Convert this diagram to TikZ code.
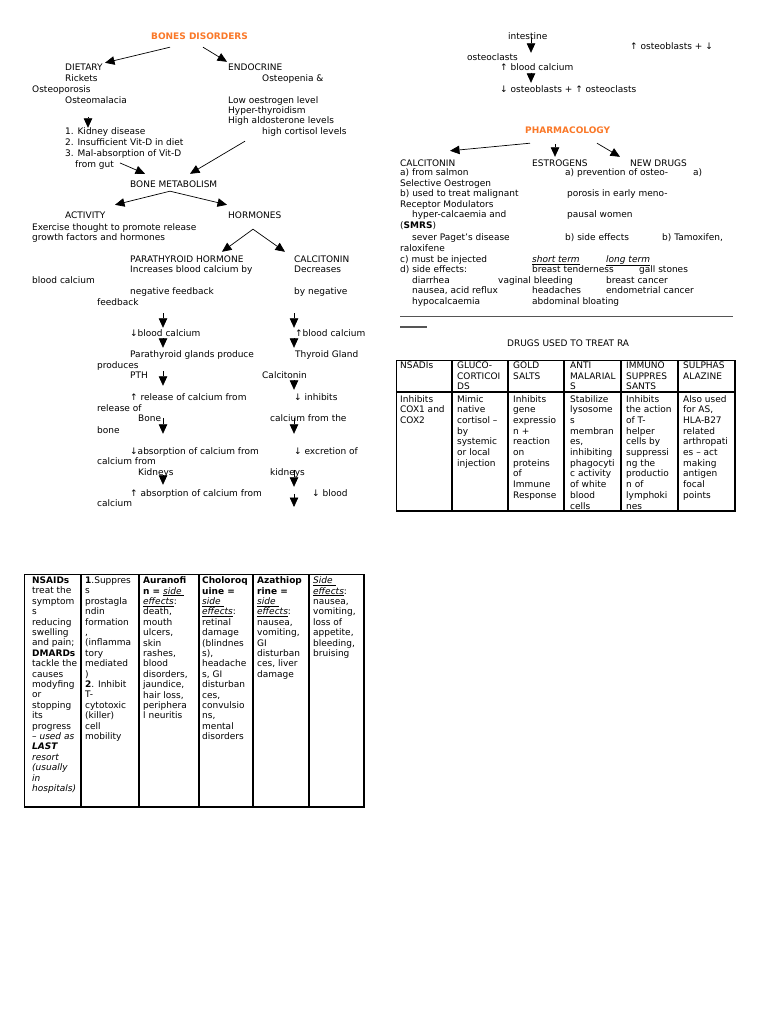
\documentclass[tikz,border=0pt]{standalone}
\usepackage{fontspec}
\setmainfont{DejaVu Sans}
\usepackage{tikz}
\usetikzlibrary{arrows.meta, positioning, calc}
\definecolor{headorange}{RGB}{250,120,40}
\definecolor{rulegray}{RGB}{85,85,85}

\begin{document}
\begin{tikzpicture}[x=1pt, y=-1pt,
    txt/.style={anchor=base west, inner sep=0pt, yshift=-3.3pt, text height=6.8pt, text depth=2.1pt, font=\fontsize{9}{10.5}\selectfont},
    ttl/.style={txt, text=headorange, font=\fontsize{9}{10.5}\selectfont\bfseries},
    cell/.style={anchor=north west, inner sep=0pt, align=left, font=\fontsize{9}{10.7}\selectfont},
    bcell/.style={cell, font=\fontsize{9}{10.4}\selectfont},
    arr/.style={-{Triangle[length=9.5pt,width=8.5pt]}, line width=0.7pt},
    tbl/.style={line width=1.3pt}]
    \useasboundingbox[fill=white] (0,0) rectangle (768,1024);

    % Bones disorders tree
    \node[ttl] (bd) at (151,36) {BONES DISORDERS};
    \node[txt] (diet) at (65,67) {DIETARY};
    \node[txt] (rick) at (65,78) {Rickets};
    \node[txt] (osp) at (32,89) {Osteoporosis};
    \node[txt] (osm) at (65,100) {Osteomalacia};
    \node[txt] (kid1) at (65,131) {1. Kidney disease};
    \node[txt] (kid2) at (65,142) {2. Insufficient Vit-D in diet};
    \node[txt] (kid3) at (65,153) {3. Mal-absorption of Vit-D};
    \node[txt] (gut) at (75,164) {from gut};
    \node[txt] (endo) at (228,67) {ENDOCRINE};
    \node[txt] (open) at (262,78) {Osteopenia \&};
    \node[txt] (oest) at (228,100) {Low oestrogen level};
    \node[txt] (hthy) at (228,110) {Hyper-thyroidism};
    \node[txt] (hald) at (228,120) {High aldosterone levels};
    \node[txt] (hcort) at (262,131) {high cortisol levels};

    \draw[arr] ($(bd.south west)+(19,5.6)$) -- ($(diet.north west)+(40,-0.5)$);
    \draw[arr] ($(bd.south west)+(52,5.6)$) -- ($(endo.north west)+(-1,-1.5)$);
    \draw[arr] ($(osm.south west)+(23,11.6)$) -- ($(kid1.north west)+(23,0.5)$);

    % Bone metabolism
    \node[txt] (meta) at (130,184) {BONE METABOLISM};
    \node[txt] (act) at (65,215) {ACTIVITY};
    \node[txt] (exer) at (32,227) {Exercise thought to promote release};
    \node[txt] (grow) at (32,237) {growth factors and hormones};
    \node[txt] (horm) at (228,215) {HORMONES};

    \draw[arr] ($(gut.west)+(45,-2)$) -- ($(meta.north west)+(15,-6.5)$);
    \draw[arr] ($(hcort.south west)+(-17,4.6)$) -- ($(meta.north west)+(60,-6.5)$);
    \draw[arr] ($(meta.south west)+(40,1.6)$) -- ($(act.north west)+(50,-6.5)$);
    \draw[arr] ($(meta.south west)+(40,1.6)$) -- ($(horm.north west)+(-1,-6.5)$);

    % Hormones
    \node[txt] (pth) at (130,259) {PARATHYROID HORMONE};
    \node[txt] (incr) at (130,269) {Increases blood calcium by};
    \node[txt] (blca) at (32,280) {blood calcium};
    \node[txt] (negf) at (130,291) {negative feedback};
    \node[txt] (fb) at (97,302) {feedback};
    \node[txt] (calc) at (294,259) {CALCITONIN};
    \node[txt] (decr) at (294,269) {Decreases};
    \node[txt] (byneg) at (294,291) {by negative};

    \draw[arr] ($(horm.south west)+(25,8.6)$) -- ($(pth.north west)+(92,-3.5)$);
    \draw[arr] ($(horm.south west)+(25,8.6)$) -- ($(calc.north west)+(-9,-3.5)$);

    % Parathyroid chain
    \coordinate (pcol) at (163,0);
    \node[txt] (lowca) at (130,333) {↓blood calcium};
    \node[txt] (pgp) at (130,354) {Parathyroid glands produce};
    \node[txt] (prod) at (97,365) {produces};
    \node[txt] (pthn) at (130,375) {PTH};
    \node[txt] (rel) at (130,397) {↑ release of calcium from};
    \node[txt] (relof) at (97,408) {release of};
    \node[txt] (bone) at (138,418) {Bone};
    \node[txt] (bone2) at (97,430) {bone};
    \node[txt] (abs) at (130,451) {↓absorption of calcium from};
    \node[txt] (cfr) at (97,461) {calcium from};
    \node[txt] (kid) at (138,472) {Kidneys};
    \node[txt] (abs2) at (130,493) {↑ absorption of calcium from};
    \node[txt] (calci) at (97,503) {calcium};

    \draw[arr, shorten <=5.6pt, shorten >=1.5pt] (pcol |- fb.south) -- (pcol |- lowca.north);
    \draw[arr, shorten <=-1pt, shorten >=2.5pt] (pcol |- lowca.south) -- (pcol |- pgp.north);
    \draw[arr, shorten >=7.5pt] (pcol |- pthn.north) -- (pcol |- rel.north);
    \draw[arr, shorten <=3.5pt, shorten >=13.5pt] (pcol |- bone.north) -- (pcol |- abs.north);
    \draw[arr, shorten >=4.5pt] (pcol |- kid.south) -- (pcol |- abs2.north);

    % Calcitonin chain
    \coordinate (ccol) at (294,0);
    \coordinate (calend) at (294,507);
    \node[txt] (hica) at (295,333) {↑blood calcium};
    \node[txt] (tg) at (295,354) {Thyroid Gland};
    \node[txt] (calcn) at (262,375) {Calcitonin};
    \node[txt] (inh) at (294,397) {↓ inhibits};
    \node[txt] (cft) at (270,418) {calcium from the};
    \node[txt] (exc) at (294,451) {↓ excretion of};
    \node[txt] (kdn) at (270,472) {kidneys};
    \node[txt] (dbl) at (312,493) {↓ blood};

    \draw[arr, shorten <=16.6pt, shorten >=1.5pt] (ccol |- byneg.south) -- (ccol |- hica.north);
    \draw[arr, shorten <=-1pt, shorten >=2.5pt] (ccol |- hica.south) -- (ccol |- tg.north);
    \draw[arr, shorten >=3.5pt] (ccol |- calcn.south) -- (ccol |- inh.north);
    \draw[arr, shorten <=3.5pt, shorten >=13.5pt] (ccol |- cft.north) -- (ccol |- exc.north);
    \draw[arr, shorten <=1.5pt, shorten >=2.5pt] (ccol |- kdn.north) -- (ccol |- dbl.north);
    \draw[arr] (ccol |- dbl.west) -- (calend);

    % Intestine chain
    \coordinate (icol) at (531,0);
    \node[txt] (int) at (508,36) {intestine};
    \node[txt] (upob) at (630,46) {↑ osteoblasts + ↓};
    \node[txt] (ocl) at (467,57) {osteoclasts};
    \node[txt] (hbc) at (500,67) {↑ blood calcium};
    \node[txt] (obl) at (500,89) {↓ osteoblasts + ↑ osteoclasts};

    \draw[arr, shorten >=10.5pt] (icol |- int.center) -- (icol |- hbc.north);
    \draw[arr, shorten >=2.5pt] (icol |- hbc.south) -- (icol |- obl.north);

    % Pharmacology
    \node[ttl] (pharm) at (525,130) {PHARMACOLOGY};
    \node[txt] (calcit) at (400,163) {CALCITONIN};
    \node[txt] (estro) at (532,163) {ESTROGENS};
    \node[txt] (newd) at (630,163) {NEW DRUGS};

    \draw[arr] ($(pharm.south west)+(5,7.6)$) -- ($(calcit.north west)+(50,-8.5)$);
    \draw[arr] ($(pharm.south west)+(30,8.6)$) -- ($(estro.north west)+(23,-2.5)$);
    \draw[arr] ($(pharm.south west)+(72,7.6)$) -- ($(newd.north west)+(-10,-2.5)$);

    \node[txt] (fsal) at (400,172) {a) from salmon};
    \node[txt] (prev) at (565,172) {a) prevention of osteo-};
    \node[txt] (na) at (693,172) {a)};
    \node[txt] (seo) at (400,183) {Selective Oestrogen};
    \node[txt] (umal) at (400,193) {b) used to treat malignant};
    \node[txt] (por) at (567,193) {porosis in early meno-};
    \node[txt] (rmod) at (400,204) {Receptor Modulators};
    \node[txt] (hyp) at (412,214) {hyper-calcaemia and};
    \node[txt] (paus) at (567,214) {pausal women};
    \node[txt] (smrs) at (400,225) {(\textbf{SMRS})};
    \node[txt] (pag) at (412,237) {sever Paget’s disease};
    \node[txt] (bse) at (565,237) {b) side effects};
    \node[txt] (tam) at (662,237) {b) Tamoxifen,};
    \node[txt] (ralo) at (400,248) {raloxifene};
    \node[txt] (inj) at (400,259) {c) must be injected};
    \node[txt] (sht) at (532,259) {\underline{\textit{short term}}};
    \node[txt] (lng) at (606,259) {\underline{\textit{long term}}};
    \node[txt] (dse) at (400,269) {d) side effects:};
    \node[txt] (bten) at (532,269) {breast tenderness};
    \node[txt] (gall) at (639,269) {gall stones};
    \node[txt] (diar) at (412,280) {diarrhea};
    \node[txt] (vag) at (498,280) {vaginal bleeding};
    \node[txt] (bcan) at (606,280) {breast cancer};
    \node[txt] (naus) at (412,290) {nausea, acid reflux};
    \node[txt] (head) at (532,290) {headaches};
    \node[txt] (endc) at (606,290) {endometrial cancer};
    \node[txt] (hypo) at (412,301) {hypocalcaemia};
    \node[txt] (abd) at (532,301) {abdominal bloating};

    % Rules
    \draw[rulegray, line width=1.2pt] (400,316.5) -- (733,316.5);
    \draw[rulegray, line width=1.2pt] (400,327) -- (427,327);

    % RA table
    \node[txt] (ratitle) at (507,343) {DRUGS USED TO TREAT RA};
    \draw[tbl] (396.5,360.5) rectangle (735,511);
    \draw[tbl] (396.5,392) -- (735,392);
    \draw[tbl] (452,360.5) -- (452,511);
    \draw[tbl] (508,360.5) -- (508,511);
    \draw[tbl] (564,360.5) -- (564,511);
    \draw[tbl] (621,360.5) -- (621,511);
    \draw[tbl] (678,360.5) -- (678,511);

    \node[cell] (rh1) at (400,361.6) {NSADIs};
    \node[cell] (rh2) at (457,361.6) {GLUCO-\\CORTICOI\\DS};
    \node[cell] (rh3) at (513,361.6) {GOLD\\SALTS};
    \node[cell] (rh4) at (570,361.6) {ANTI\\MALARIAL\\S};
    \node[cell] (rh5) at (626,361.6) {IMMUNO\\SUPPRES\\SANTS};
    \node[cell] (rh6) at (683,361.6) {SULPHAS\\ALAZINE};

    \node[cell] (rb1) at (400,395) {Inhibits\\COX1 and\\COX2};
    \node[cell] (rb2) at (457,395) {Mimic\\native\\cortisol –\\by\\systemic\\or local\\injection};
    \node[cell] (rb3) at (513,395) {Inhibits\\gene\\expressio\\n +\\reaction\\on\\proteins\\of\\Immune\\Response};
    \node[cell] (rb4) at (570,395) {Stabilize\\lysosome\\s\\membran\\es,\\inhibiting\\phagocyti\\c activity\\of white\\blood\\cells};
    \node[cell] (rb5) at (626,395) {Inhibits\\the action\\of T-\\helper\\cells by\\suppressi\\ng the\\productio\\n of\\lymphoki\\nes};
    \node[cell] (rb6) at (683,395) {Also used\\for AS,\\HLA-B27\\related\\arthropati\\es – act\\making\\antigen\\focal\\points};

    % Side effects table
    \draw[tbl] (24.5,574.5) rectangle (364,807);
    \draw[tbl] (81,574.5) -- (81,807);
    \draw[tbl] (139,574.5) -- (139,807);
    \draw[tbl] (199,574.5) -- (199,807);
    \draw[tbl] (253,574.5) -- (253,807);
    \draw[tbl] (309,574.5) -- (309,807);
    \draw[line width=2.5pt] (24.5,807) -- (364,807);

    \node[bcell] (sb1) at (32,576.6) {\textbf{NSAIDs}\\treat the\\symptom\\s\\reducing\\swelling\\and pain;\\\textbf{DMARDs}\\tackle the\\causes\\modyfing\\or\\stopping\\its\\progress\\– \textit{used as}\\\textbf{\textit{LAST}}\\\textit{resort}\\\textit{(usually}\\\textit{in}\\\textit{hospitals)}};
    \node[bcell] (sb2) at (85,576.6) {\textbf{1}.Suppres\\s\\prostagla\\ndin\\formation\\,\\(inflamma\\tory\\mediated\\)\\\textbf{2}. Inhibit\\T-\\cytotoxic\\(killer)\\cell\\mobility};
    \node[bcell] (sb3) at (143,576.6) {\textbf{Auranofi}\\\textbf{n =} \underline{\textit{side}\ }\\\underline{\textit{effects}}:\\death,\\mouth\\ulcers,\\skin\\rashes,\\blood\\disorders,\\jaundice,\\hair loss,\\periphera\\l neuritis};
    \node[bcell] (sb4) at (202,576.6) {\textbf{Choloroq}\\\textbf{uine =}\\\underline{\textit{side}\ }\\\underline{\textit{effects}}:\\retinal\\damage\\(blindnes\\s),\\headache\\s, GI\\disturban\\ces,\\convulsio\\ns,\\mental\\disorders};
    \node[bcell] (sb5) at (257,576.6) {\textbf{Azathiop}\\\textbf{rine =}\\\underline{\textit{side}\ }\\\underline{\textit{effects}}:\\nausea,\\vomiting,\\GI\\disturban\\ces, liver\\damage};
    \node[bcell] (sb6) at (313,576.6) {\underline{\textit{Side}\ }\\\underline{\textit{effects}}:\\nausea,\\vomiting,\\loss of\\appetite,\\bleeding,\\bruising};
\end{tikzpicture}
\end{document}
